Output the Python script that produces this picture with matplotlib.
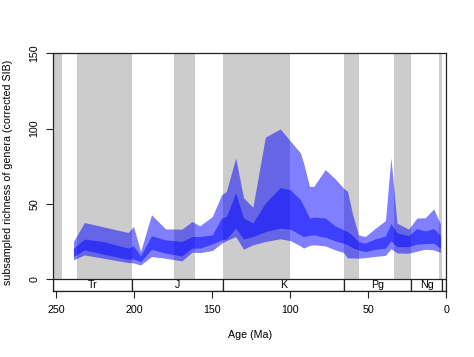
import numpy as np
import matplotlib
matplotlib.use("Agg")
import matplotlib.pyplot as plt

plt.rcParams['font.family'] = ['Liberation Sans', 'DejaVu Sans']

# time bins (Ma) and subsampled richness bands
ages = [239, 232, 220, 204, 200.5, 196, 189, 180, 169.5, 163, 158, 150, 144, 141,
        135, 130, 124, 116, 106.5, 100, 93.5, 91.5, 87.7, 85, 77.6, 71.2, 66, 63.3,
        60, 56.3, 52, 45.5, 39, 35.5, 31.6, 24.2, 18.8, 13.5, 8.1, 3.8]
outer_hi = [24.9, 37.5, 34.7, 30.9, 34.9, 18.2, 42.7, 33.3, 33.1, 38.2, 35.3, 41.5, 56, 58.2,
            80.5, 54, 47.7, 94.3, 99.7, 91.7, 83.8, 77.1, 61.5, 61.5, 72.7, 66.5, 60.5, 58.2,
            42.7, 29.3, 28.2, 33.7, 38.8, 80.5, 37.1, 33.2, 40.5, 40.7, 46.5, 36.7]
inner_hi = [20.5, 26.5, 24.9, 20.5, 22, 15.3, 28.7, 26, 24.9, 28.2, 28.2, 29.3, 40.5, 41.5,
            57.1, 40.5, 37.3, 50.5, 60.7, 59.3, 52.7, 48.7, 40.5, 41.1, 40.5, 35.3, 32.7, 31.5,
            28.7, 24.9, 23.8, 26.7, 28.5, 36.9, 30.7, 28.8, 33.5, 31.9, 33.5, 29]
inner_lo = [14.9, 19.3, 16.5, 13.1, 13.3, 11.5, 19.8, 17.1, 15.3, 20.5, 20.5, 23.3, 26, 26.5,
            33.8, 26.5, 28.2, 31.5, 33.8, 33.1, 29.3, 28.2, 29, 29.3, 27.7, 25.3, 23.7, 22.7,
            20.7, 19.3, 18.2, 19.7, 20.5, 25.3, 21.5, 21.5, 23.2, 23.5, 23.8, 20.5]
outer_lo = [12.7, 16, 13.8, 10.9, 10.7, 9.3, 14.9, 13.8, 12, 17.8, 17.5, 18.9, 23.8, 25.5,
            28.2, 19.8, 22.7, 24.9, 26.7, 25.5, 22, 20.5, 22.3, 22.7, 22, 19.3, 17.7, 14,
            14, 13.8, 14.2, 15, 15.7, 20.1, 17.3, 17.1, 18.5, 19.8, 19.3, 17.7]

# alternating epoch shading (older, younger)
gray_bands = [(251.9, 246.6), (236.7, 201.3), (174.4, 161.3), (143, 100.4),
              (65.5, 55.8), (33.4, 22.8), (4.9, 2.5)]

# periods for the strip under the plot
period_names = ['Tr', 'J', 'K', 'Pg', 'Ng', '']
period_start = [251.9, 201.3, 143, 65.5, 22.8, 2.5]
period_end = [201.3, 143, 65.5, 22.8, 2.5, 0]

strip_lo = -7.8

fig = plt.figure(figsize=(4.74, 3.57), dpi=100)
ax = fig.add_axes([53.2 / 474, 1 - 290.7 / 357, (446.3 - 53.2) / 474, (290.7 - 53.3) / 357])

for old, young in gray_bands:
    ax.fill_between([old, young], 0, 150, color='#cccccc', linewidth=0, zorder=1)

ax.fill_between(ages, outer_lo, outer_hi, color='blue', alpha=0.5, linewidth=0, zorder=2)
ax.fill_between(ages, inner_lo, inner_hi, color='blue', alpha=0.5, linewidth=0, zorder=3)

for name, s, e in zip(period_names, period_start, period_end):
    ax.fill_between([s, e], strip_lo, 0, facecolor='white', edgecolor='#222222',
                    linewidth=0.9, zorder=4)
    if name:
        ax.text((s + e) / 2, strip_lo / 2 - 0.3, name, ha='center', va='center',
                fontsize=7.7, zorder=5)

ax.set_xlim(252, 0)
ax.set_ylim(strip_lo, 150)
ax.set_xticks([250, 200, 150, 100, 50, 0])
ax.set_yticks([0, 50, 100, 150])
ax.set_yticklabels(['0', '50', '100', '150'], rotation=90, va='center')
ax.tick_params(axis='both', labelsize=7.7, length=5, width=0.8, pad=5, color='#222222')
for sp in ax.spines.values():
    sp.set_linewidth(0.9)
    sp.set_color('#222222')
    sp.set_zorder(6)

ax.set_xlabel('Age (Ma)', fontsize=7.7, labelpad=11)
ax.set_ylabel('subsampled richness of genera (corrected SIB)', fontsize=7.7, labelpad=12)

fig.savefig('out.png', dpi=100)
